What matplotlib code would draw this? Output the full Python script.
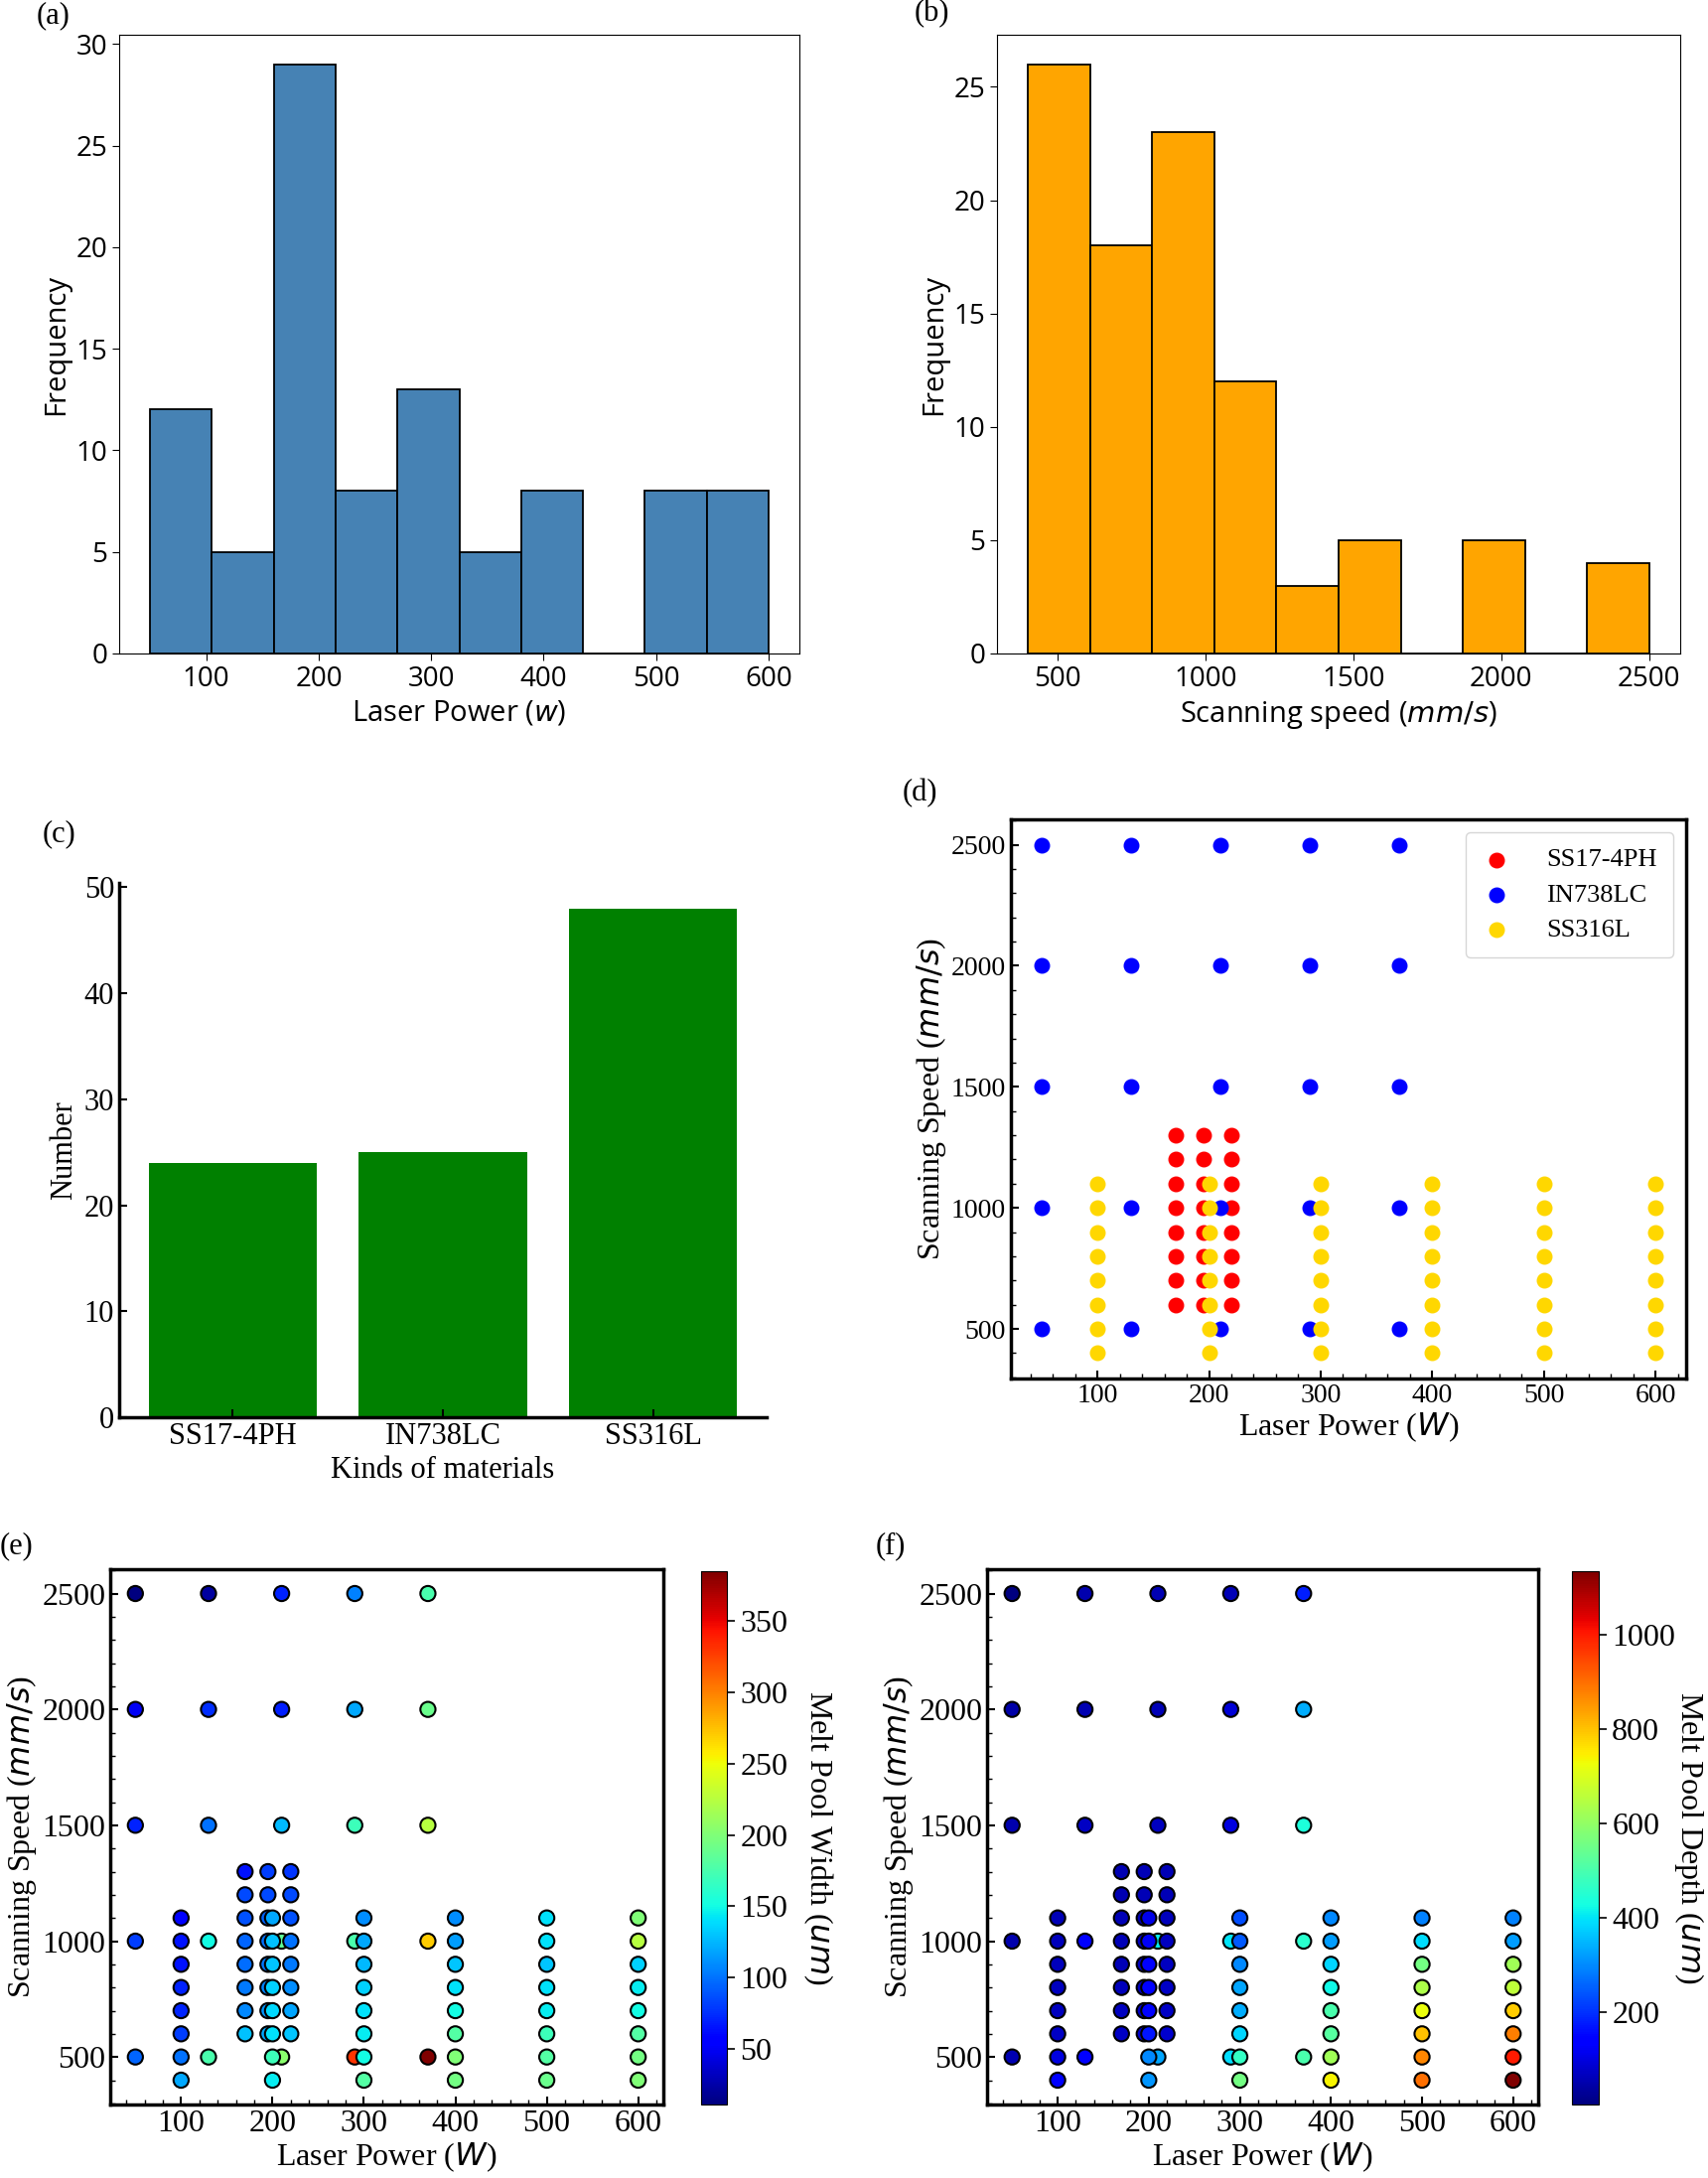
import numpy as np
import matplotlib
matplotlib.use('Agg')
import matplotlib.pyplot as plt
from matplotlib.ticker import AutoMinorLocator

# ---- data ----
materials = ['SS17-4PH', 'IN738LC', 'SS316L']

# histogram counts (10 bins each)
power_counts = [12, 5, 29, 8, 13, 5, 8, 0, 8, 8]
speed_counts = [26, 18, 23, 12, 3, 5, 0, 5, 0, 4]
power_range = (50, 600)
speed_range = (400, 2500)

# IN738LC grid: rows = speeds, cols = powers
in738_power = [50, 130, 210, 290, 370]
in738_speed = [2500, 2000, 1500, 1000, 500]
in738_width = [[11, 22, 70, 105, 175],
               [50, 75, 68, 120, 190],
               [70, 100, 125, 170, 225],
               [80, 150, 185, 175, 270],
               [95, 175, 205, 330, 385]]
in738_depth = [[5, 50, 55, 60, 180],
               [45, 55, 60, 90, 340],
               [50, 75, 70, 100, 440],
               [50, 135, 410, 400, 455],
               [55, 140, 330, 390, 500]]

# SS17-4PH grid
ss17_power = [170, 195, 220]
ss17_speed = [1300, 1200, 1100, 1000, 900, 800, 700, 600]
ss17_width = [[65, 80, 78],
              [85, 85, 85],
              [88, 95, 88],
              [95, 100, 100],
              [98, 102, 102],
              [102, 106, 110],
              [108, 112, 118],
              [128, 120, 130]]
ss17_depth = [[55, 60, 60],
              [55, 60, 62],
              [58, 62, 65],
              [60, 65, 68],
              [62, 68, 70],
              [65, 70, 72],
              [68, 72, 75],
              [75, 80, 82]]

# SS316L grid
ss316_power = [100, 200, 300, 400, 500, 600]
ss316_speed = [1100, 1000, 900, 800, 700, 600, 500, 400]
ss316_width = [[55, 120, 110, 110, 140, 200],
               [65, 128, 120, 115, 140, 225],
               [65, 130, 125, 130, 130, 135],
               [70, 135, 135, 140, 140, 145],
               [72, 138, 140, 150, 145, 150],
               [80, 140, 145, 180, 170, 180],
               [100, 170, 150, 200, 180, 195],
               [120, 145, 180, 195, 190, 200]]
ss316_depth = [[60, 110, 230, 300, 290, 290],
               [65, 120, 245, 320, 390, 320],
               [65, 130, 300, 380, 560, 620],
               [70, 135, 330, 420, 640, 660],
               [70, 150, 340, 500, 720, 790],
               [75, 170, 380, 520, 800, 880],
               [100, 300, 470, 620, 870, 1000],
               [140, 310, 560, 740, 900, 1134]]


def grid_points(power, speed, *vals):
    P, S = np.meshgrid(power, speed)
    out = [P.ravel(), S.ravel()]
    for v in vals:
        out.append(np.asarray(v, float).ravel())
    return out


in738 = grid_points(in738_power, in738_speed, in738_width, in738_depth)
ss17 = grid_points(ss17_power, ss17_speed, ss17_width, ss17_depth)
ss316 = grid_points(ss316_power, ss316_speed, ss316_width, ss316_depth)
material_counts = [len(ss17[0]), len(in738[0]), len(ss316[0])]

# all points, drawn in this order in (e) and (f)
all_p = np.concatenate([in738[0], ss17[0], ss316[0]])
all_s = np.concatenate([in738[1], ss17[1], ss316[1]])
all_w = np.concatenate([in738[2], ss17[2], ss316[2]])
all_d = np.concatenate([in738[3], ss17[3], ss316[3]])

# ---- figure ----
W, H = 1720, 2193
fig = plt.figure(figsize=(W / 100, H / 100), dpi=100)


def add_ax(l, t, r, b):
    return fig.add_axes([l / W, 1 - b / H, (r - l) / W, (b - t) / H])


SANS = 'Open Sans'
SERIF = 'Liberation Serif'


def label(x, y, s):
    fig.text(x / W, 1 - y / H, s, fontsize=22, family=SERIF, va='center', ha='left')


# (a) laser power histogram
ax = add_ax(120, 35, 805, 658)
edges = np.linspace(*power_range, len(power_counts) + 1)
ax.hist(edges[:-1], bins=edges, weights=power_counts, color='steelblue',
        edgecolor='black', linewidth=1.3)
ax.set_xlabel('Laser Power ($w$)', fontsize=21, family=SANS)
ax.set_ylabel('Frequency', fontsize=21, family=SANS)
for t in ax.get_xticklabels() + ax.get_yticklabels():
    t.set_family(SANS)
ax.tick_params(labelsize=20, length=5)
label(37, 16, '(a)')

# (b) scanning speed histogram
ax = add_ax(1004, 35, 1692, 658)
edges = np.linspace(*speed_range, len(speed_counts) + 1)
ax.hist(edges[:-1], bins=edges, weights=speed_counts, color='orange',
        edgecolor='black', linewidth=1.3)
ax.set_xlabel('Scanning speed ($mm/s$)', fontsize=21, family=SANS)
ax.set_ylabel('Frequency', fontsize=21, family=SANS)
ax.set_xticks([500, 1000, 1500, 2000, 2500])
for t in ax.get_xticklabels() + ax.get_yticklabels():
    t.set_family(SANS)
ax.tick_params(labelsize=20, length=5)
label(921, 14, '(b)')

# (c) number of samples per material
ax = add_ax(120, 889, 772, 1427)
ax.bar(materials, material_counts, color='green', width=0.8)
ax.spines['top'].set_visible(False)
ax.spines['right'].set_visible(False)
ax.spines['left'].set_linewidth(2.5)
ax.spines['bottom'].set_linewidth(2.5)
ax.tick_params(direction='in', labelsize=22, length=6, width=1.5)
for t in ax.get_xticklabels() + ax.get_yticklabels():
    t.set_family(SERIF)
ax.set_xlabel('Kinds of materials', fontsize=22, family=SERIF, labelpad=4)
ax.set_ylabel('Number', fontsize=22, family=SERIF)
label(43, 840, '(c)')


def style_scatter_ax(ax, tick_size):
    for sp in ax.spines.values():
        sp.set_linewidth(2.5)
    ax.xaxis.set_minor_locator(AutoMinorLocator(5))
    ax.yaxis.set_minor_locator(AutoMinorLocator(5))
    ax.tick_params(which='major', direction='in', length=6, width=1.5, labelsize=tick_size)
    ax.tick_params(which='minor', direction='in', length=3.5, width=1)
    ax.set_xticks([100, 200, 300, 400, 500, 600])
    ax.set_yticks([500, 1000, 1500, 2000, 2500])
    for t in ax.get_xticklabels() + ax.get_yticklabels():
        t.set_family(SERIF)
    ax.set_xlabel('Laser Power ($W$)', fontsize=23, family=SERIF, labelpad=2)
    ax.set_ylabel('Scanning Speed ($mm/s$)', fontsize=23, family=SERIF, labelpad=2)


# (d) process window by material
ax = add_ax(1018, 825, 1698, 1388)
ax.scatter(ss17[0], ss17[1], s=110, color='red', label=materials[0])
ax.scatter(in738[0], in738[1], s=110, color='blue', label=materials[1])
ax.scatter(ss316[0], ss316[1], s=110, color='gold', label=materials[2])
style_scatter_ax(ax, 20)
ax.legend(loc='upper right', prop={'family': SERIF, 'size': 19},
          handlelength=1.2, handletextpad=1.3, labelspacing=0.45, borderpad=0.6)
label(909, 799, '(d)')

# (e) melt pool width, (f) melt pool depth
for (l, r, cl, cr, lx, pad), vals, name, tag in [
        ((111, 668, 706, 732, 0, 34), all_w, 'Melt Pool Width ($um$)', '(e)'),
        ((994, 1549, 1583, 1610, 882, 22), all_d, 'Melt Pool Depth ($um$)', '(f)')]:
    ax = add_ax(l, 1580, r, 2119)
    sc = ax.scatter(all_p, all_s, c=vals, cmap='jet', s=120,
                    edgecolors='black', linewidths=1.5)
    style_scatter_ax(ax, 23)
    cax = add_ax(cl, 1582, cr, 2119)
    cb = fig.colorbar(sc, cax=cax)
    cb.ax.tick_params(labelsize=23, length=6, width=1.2)
    for t in cb.ax.get_yticklabels():
        t.set_family(SERIF)
    cb.set_label(name, fontsize=23, family=SERIF, rotation=270, labelpad=pad)
    label(lx, 1557, tag)

fig.savefig('out.png', dpi=100)
